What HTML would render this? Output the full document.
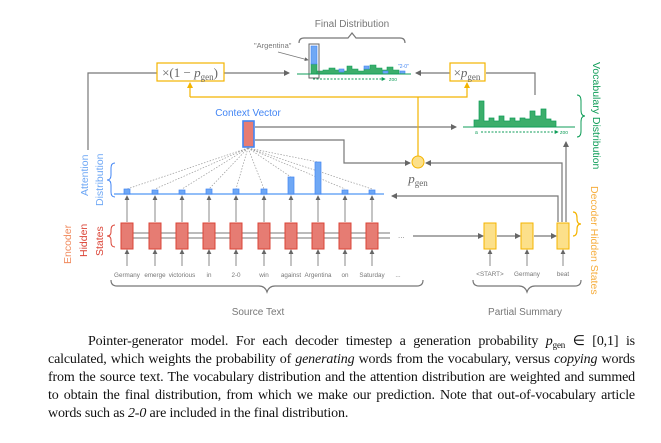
<!DOCTYPE html>
<html><head><meta charset="utf-8"><style>
html,body{margin:0;padding:0;background:#fff;width:661px;height:443px;overflow:hidden}
svg{position:absolute;left:0;top:0}
.cap{position:absolute;left:48px;top:333px;width:587px;font-family:"Liberation Serif",serif;font-size:14px;letter-spacing:-0.15px;line-height:18px;color:#111}
.cap div{text-align:justify;text-align-last:justify;white-space:nowrap}
.cap div.l{text-align-last:left}
.sb{font-size:9px;position:relative;top:3px;line-height:0}
.s{font-family:"Liberation Sans",sans-serif}
</style></head><body>
<svg width="661" height="330" viewBox="0 0 661 330">
<defs>
<marker id="a" viewBox="0 0 6 6" refX="5" refY="3" markerWidth="5" markerHeight="5" orient="auto"><path d="M0,0L6,3L0,6z" fill="#666"/></marker>
<marker id="y" viewBox="0 0 6 6" refX="5" refY="3" markerWidth="5" markerHeight="5" orient="auto"><path d="M0,0L6,3L0,6z" fill="#f4b400"/></marker>
<marker id="g" viewBox="0 0 6 6" refX="5" refY="3" markerWidth="4" markerHeight="4" orient="auto"><path d="M0,0L6,3L0,6z" fill="#0f9d58"/></marker>
</defs>
<g fill="none" stroke="#777" stroke-width="1.2">
<path d="M299,43 q0,-5 5,-5 h44 l4,-5 l4,5 h44 q5,0 5,5"/>
<polyline points="88,150 88,73 157,73"/>
<line x1="224" y1="73" x2="289" y2="73" marker-end="url(#a)"/>
<line x1="450" y1="73" x2="416" y2="73" marker-end="url(#a)"/>
<polyline points="486,73 535,73 535,95"/>
<line x1="255" y1="127" x2="456" y2="127" marker-end="url(#a)"/>
<polyline points="255,140 344,140 344,163 410,163" marker-end="url(#a)"/>
<polyline points="562,222 562,163 426,163" marker-end="url(#a)"/>
<line x1="566" y1="222" x2="566" y2="142" marker-end="url(#a)"/>
<polyline points="558,222 558,196 392,196" marker-end="url(#a)"/>
<line x1="413" y1="236" x2="483" y2="236" marker-end="url(#a)"/>
<line x1="497" y1="236" x2="520" y2="236" marker-end="url(#a)"/>
<line x1="534" y1="236" x2="556" y2="236" marker-end="url(#a)"/>
<path d="M111,280 q0,6 6,6 h142 q6,0 8,6 q2,-6 8,-6 h142 q6,0 6,-6"/>
<path d="M473,280 q0,6 6,6 h40 q6,0 8,6 q2,-6 8,-6 h40 q6,0 6,-6"/>
</g>
<g fill="none" stroke="#f4b400" stroke-width="1.2">
<polyline points="190,97 467,97 467,83" marker-end="url(#y)"/>
<line x1="190" y1="97" x2="190" y2="83" marker-end="url(#y)"/>
<line x1="418" y1="97" x2="418" y2="156"/>
<path d="M573,196 q4,0 4,-6 v-1 q0,-5 4,-5 q-4,0 -4,-5 v-1 q0,-6 -4,-6" transform="translate(0,40)"/>
</g>
<rect x="157" y="63" width="67" height="18" fill="#fff" stroke="#f4b400" stroke-width="1.2"/>
<text x="190" y="77" font-family="Liberation Serif,serif" font-size="13" fill="#666" text-anchor="middle">×(1 − <tspan font-style="italic">p</tspan><tspan font-size="9" dy="3">gen</tspan><tspan dy="-3">)</tspan></text>
<rect x="450" y="63" width="35" height="18" fill="#fff" stroke="#f4b400" stroke-width="1.2"/>
<text x="467" y="77" font-family="Liberation Serif,serif" font-size="13" fill="#666" text-anchor="middle">×<tspan font-style="italic">p</tspan><tspan font-size="9" dy="3">gen</tspan></text>
<circle cx="418" cy="162" r="6" fill="#fce08a" stroke="#f4b400"/>
<text x="418" y="183" font-family="Liberation Serif,serif" font-size="13" fill="#666" text-anchor="middle" font-style="italic">p<tspan font-size="9" font-style="normal" dy="3">gen</tspan></text>
<text x="352" y="27" class="s" font-size="10" fill="#777" text-anchor="middle">Final Distribution</text>
<text x="254" y="48" class="s" font-size="7.5" fill="#777">"Argentina"</text>
<line x1="278" y1="52" x2="308" y2="60" stroke="#777" stroke-width="0.8" marker-end="url(#a)"/>
<g fill="#3cae6b" stroke="#0f9d58" stroke-width="0.6">
<rect x="311" y="64" width="6" height="10"/>
<path d="M317,74 V71 h6 v-1 h6 v-2 h6 v2 h6 v1 h6 v-5 h5 v3 h6 v2 h6 v-2 h6 v-4 h6 v3 h6 v2 h5 v-3 h6 v3 h6 V74z"/>
</g>
<g fill="#6fa8f5" stroke="#4285f4" stroke-width="0.6">
<rect x="311" y="46" width="6" height="18"/>
<rect x="339" y="69" width="5" height="3"/><rect x="364" y="66" width="5" height="3"/><rect x="383" y="71" width="5" height="3"/><rect x="400" y="71" width="5" height="3"/>
</g>
<rect x="309" y="44" width="10" height="34" fill="none" stroke="#666" stroke-width="1"/>
<line x1="297" y1="74" x2="411" y2="74" stroke="#0f9d58" stroke-width="1"/>
<line x1="313" y1="79" x2="385" y2="79" stroke="#0f9d58" stroke-dasharray="2,1.5" marker-end="url(#g)"/>
<text x="398" y="68" class="s" font-size="5" fill="#4285f4">"2-0"</text>
<text x="389" y="81" class="s" font-size="5" fill="#0f9d58">zoo</text>
<path d="M474,127 V120 h5 v-19 h5 v20 h5 v-3 h5 v3 h5 v-5 h5 v5 h6 v-3 h5 v3 h5 v-3 h5 v1 h5 v-8 h5 v5 h6 v-7 h5 v10 h5 v2 h5 V127z" fill="#3cae6b" stroke="#0f9d58" stroke-width="0.7"/>
<line x1="463" y1="127" x2="575" y2="127" stroke="#0f9d58" stroke-width="1"/>
<line x1="481" y1="132" x2="558" y2="132" stroke="#0f9d58" stroke-dasharray="2,1.5" marker-end="url(#g)"/>
<text x="475" y="134" class="s" font-size="5" fill="#0f9d58">a</text>
<text x="560" y="134" class="s" font-size="5" fill="#0f9d58">zoo</text>
<path d="M577,95 q4,0 4,6 v9 q0,6 4,6 q-4,0 -4,6 v9 q0,6 -4,6" fill="none" stroke="#0f9d58" stroke-width="1"/>
<text transform="translate(593,62) rotate(90)" class="s" font-size="10.5" fill="#0f9d58">Vocabulary Distribution</text>
<text transform="translate(591,186) rotate(90)" class="s" font-size="10.5" fill="#f6ad3c">Decoder Hidden States</text>
<text x="248" y="116" class="s" font-size="10" fill="#4285f4" text-anchor="middle">Context Vector</text>
<rect x="243" y="121" width="11" height="26" fill="#e67c73" stroke="#4285f4" stroke-width="1.6"/>
<g stroke="#999" stroke-width="0.7" stroke-dasharray="1.5,1.5">
<line x1="248" y1="148" x2="127" y2="189"/><line x1="248" y1="148" x2="155" y2="189"/><line x1="248" y1="148" x2="182" y2="189"/><line x1="248" y1="148" x2="209" y2="189"/><line x1="248" y1="148" x2="236" y2="189"/><line x1="248" y1="148" x2="264" y2="189"/><line x1="248" y1="148" x2="291" y2="177"/><line x1="248" y1="148" x2="318" y2="162"/><line x1="248" y1="148" x2="345" y2="189"/><line x1="248" y1="148" x2="372" y2="189"/>
</g>
<line x1="114" y1="194" x2="384" y2="194" stroke="#6fa8f5" stroke-width="1.5"/>
<g fill="#6fa8f5" stroke="#4285f4" stroke-width="0.7">
<rect x="124" y="189" width="6" height="5"/><rect x="152" y="190" width="6" height="4"/><rect x="179" y="190" width="6" height="4"/><rect x="206" y="189" width="6" height="5"/><rect x="233" y="189" width="6" height="5"/><rect x="261" y="189" width="6" height="5"/><rect x="288" y="177" width="6" height="17"/><rect x="315" y="162" width="6" height="32"/><rect x="342" y="190" width="6" height="4"/><rect x="369" y="190" width="6" height="4"/>
</g>
<path d="M115,163 q-4,0 -4,5 v7 q0,5 -4,5 q4,0 4,5 v7 q0,5 4,5" fill="none" stroke="#4285f4" stroke-width="1"/>
<text transform="translate(88,196) rotate(-90)" class="s" font-size="10.5" fill="#6fa8f5">Attention</text>
<text transform="translate(103,206) rotate(-90)" class="s" font-size="10.5" fill="#6fa8f5">Distribution</text>
<path d="M115,225 q-4,0 -4,5 v2 q0,4 -4,4 q4,0 4,4 v2 q0,5 4,5" fill="none" stroke="#db4437" stroke-width="1"/>
<text transform="translate(71,264) rotate(-90)" class="s" font-size="10.5" fill="#f08a5d">Encoder</text>
<text transform="translate(87,257) rotate(-90)" class="s" font-size="10.5" fill="#db4437">Hidden</text>
<text transform="translate(103,256) rotate(-90)" class="s" font-size="10.5" fill="#db4437">States</text>
<g stroke="#777" stroke-width="1">
<line x1="121" y1="233" x2="390" y2="233"/><line x1="390" y1="238" x2="121" y2="238"/>
</g>
<g fill="#e67c73" stroke="#db4437" stroke-width="1">
<rect x="121" y="223" width="12" height="26"/><rect x="149" y="223" width="12" height="26"/><rect x="176" y="223" width="12" height="26"/><rect x="203" y="223" width="12" height="26"/><rect x="230" y="223" width="12" height="26"/><rect x="258" y="223" width="12" height="26"/><rect x="285" y="223" width="12" height="26"/><rect x="312" y="223" width="12" height="26"/><rect x="339" y="223" width="12" height="26"/><rect x="366" y="223" width="12" height="26"/>
</g>
<g stroke="#888" stroke-width="1" marker-end="url(#a)">
<line x1="127" y1="266" x2="127" y2="250"/><line x1="155" y1="266" x2="155" y2="250"/><line x1="182" y1="266" x2="182" y2="250"/><line x1="209" y1="266" x2="209" y2="250"/><line x1="236" y1="266" x2="236" y2="250"/><line x1="264" y1="266" x2="264" y2="250"/><line x1="291" y1="266" x2="291" y2="250"/><line x1="318" y1="266" x2="318" y2="250"/><line x1="345" y1="266" x2="345" y2="250"/><line x1="372" y1="266" x2="372" y2="250"/>
<line x1="127" y1="222" x2="127" y2="196"/><line x1="155" y1="222" x2="155" y2="196"/><line x1="182" y1="222" x2="182" y2="196"/><line x1="209" y1="222" x2="209" y2="196"/><line x1="236" y1="222" x2="236" y2="196"/><line x1="264" y1="222" x2="264" y2="196"/><line x1="291" y1="222" x2="291" y2="196"/><line x1="318" y1="222" x2="318" y2="196"/><line x1="345" y1="222" x2="345" y2="196"/><line x1="372" y1="222" x2="372" y2="196"/>
<line x1="490" y1="266" x2="490" y2="250"/><line x1="527" y1="266" x2="527" y2="250"/><line x1="563" y1="266" x2="563" y2="250"/>
</g>
<text x="398" y="238" class="s" font-size="8" fill="#888">...</text>
<g class="s" font-size="6.3" fill="#777" text-anchor="middle">
<text x="127" y="277">Germany</text><text x="155" y="277">emerge</text><text x="182" y="277">victorious</text><text x="209" y="277">in</text><text x="236" y="277">2-0</text><text x="264" y="277">win</text><text x="291" y="277">against</text><text x="318" y="277">Argentina</text><text x="345" y="277">on</text><text x="372" y="277">Saturday</text><text x="398" y="277">...</text>
<text x="490" y="276">&lt;START&gt;</text><text x="527" y="276">Germany</text><text x="563" y="276">beat</text>
</g>
<g fill="#fce08a" stroke="#f4b400" stroke-width="1">
<rect x="484" y="223" width="12" height="26"/><rect x="521" y="223" width="12" height="26"/><rect x="557" y="223" width="12" height="26"/>
</g>
<text x="258" y="315" class="s" font-size="10" fill="#777" text-anchor="middle">Source Text</text>
<text x="525" y="315" class="s" font-size="10" fill="#777" text-anchor="middle">Partial Summary</text>
</svg>
<div class="cap">
<div style="padding-left:40px">Pointer-generator model. For each decoder timestep a generation probability <i>p</i><span class="sb">gen</span> ∈ [0,1] is</div>
<div>calculated, which weights the probability of <i>generating</i> words from the vocabulary, versus <i>copying</i> words</div>
<div>from the source text. The vocabulary distribution and the attention distribution are weighted and summed</div>
<div>to obtain the final distribution, from which we make our prediction. Note that out-of-vocabulary article</div>
<div class="l">words such as <i>2-0</i> are included in the final distribution.</div>
</div>
</body></html>
